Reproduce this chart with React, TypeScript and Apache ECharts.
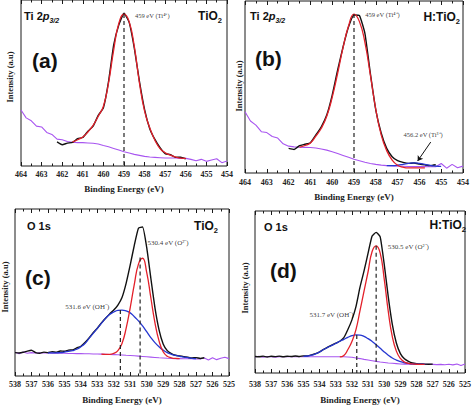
import React, { useEffect, useRef } from 'react';
import * as echarts from 'echarts';

const gap = (n: number) => Array(n).fill(null);

// Binding-energy sampling (eV)
const energyTi = [464, 463.75, 463.5, 463.25, 463, 462.75, 462.5, 462.25, 462, 461.75, 461.5, 461.25, 461, 460.75, 460.5, 460.25, 460, 459.75, 459.5, 459.25, 459, 458.75, 458.5, 458.25, 458, 457.75, 457.5, 457.25, 457, 456.75, 456.5, 456.25, 456, 455.75, 455.5, 455.25, 455, 454.75, 454.5, 454.25, 454];
const energyO = [538, 537.75, 537.5, 537.25, 537, 536.75, 536.5, 536.25, 536, 535.75, 535.5, 535.25, 535, 534.75, 534.5, 534.25, 534, 533.75, 533.5, 533.25, 533, 532.75, 532.5, 532.25, 532, 531.75, 531.5, 531.25, 531, 530.75, 530.5, 530.25, 530, 529.75, 529.5, 529.25, 529, 528.75, 528.5, 528.25, 528, 527.75, 527.5, 527.25, 527, 526.75, 526.5, 526.25, 526, 525.75, 525.5, 525.25, 525];

// (a) Ti 2p3/2 — TiO2
const bgA = [33.7, 29.0, 27.2, 24.0, 23.5, 20.2, 19.0, 16.2, 15.8, 14.7, 14.3, 14.1, 14.1, 13.9, 13.7, 13.3, 12.4, 11.6, 10.6, 9.6, 8.6, 7.8, 7.0, 6.4, 5.8, 5.4, 5.2, 5.0, 4.8, 4.8, 4.8, 4.6, 4.6, 4.0, 3.2, 4.0, 2.8, 3.6, 4.4, 2.0, 3.0];
const rawA = [...gap(7), 14.5, 12.8, 13.8, 14.2, 16.5, 17.2, 21, 24, 30.5, 35, 51, 73, 85, 92, 86.5, 71, 51, 34, 22.5, 16, 11, 7.5, 6.8, 5.2, 5.3, 4.3, ...gap(8)];
const fitA = [...gap(10), 14.5, 15.8, 17.5, 20.5, 24.5, 30, 36, 50, 70, 86, 91.5, 87, 72, 50, 33, 23, 15.5, 10.5, 8, 6.5, 5.5, 4.8, 4.6, ...gap(8)];

// (b) Ti 2p3/2 — H:TiO2
const bgB = [35.6, 30.2, 27.8, 24.0, 23.5, 21.2, 20.3, 17.0, 15.6, 15.2, 15.0, 14.9, 14.8, 14.5, 14.0, 13.3, 12.4, 11.3, 10.2, 9.1, 8.0, 7.1, 6.2, 5.5, 5.0, 4.6, 4.3, 4.1, 4.0, 3.9, 3.8, 3.7, 3.7, 3.7, 3.6, 3.6, 5.5, 2.8, 5.0, 3.0, 4.0];
const rawB = [...gap(8), 14.3, 13.7, 15.9, 16.7, 17.6, 22.1, 26.9, 33.7, 45.3, 59.9, 73.4, 85.0, 91.9, 91.5, 81.2, 57.9, 36.6, 23.1, 14.3, 9.5, 7.2, 6.2, 5.6, 5.8, 5.2, 4.7, 4.3, 4.8, ...gap(5)];
const fitB = [...gap(10), 15.0, 16, 17.5, 21.5, 26, 33, 44, 58, 73, 85.5, 92.4, 88, 76, 57, 37, 22, 13, 7.5, 4.5, 3.4, 3.0, 3.0, 3.0, 3.0, ...gap(7)];
const ti3B = [...gap(26), 4.3, 4.3, 4.5, 5.0, 5.6, 5.9, 5.6, 5.0, 4.4, 4.0, 3.8, ...gap(4)];

// (c) O 1s — TiO2
const bgC = [14.2, 13.4, 14.4, 13.6, 14.0, 13.8, 13.9, 13.8, 13.8, 13.7, 13.7, 13.6, 13.6, 13.5, 13.5, 13.4, 13.4, 13.3, 13.3, 13.2, 13.2, 13.1, 13.0, 12.9, 12.8, 12.7, 12.6, 12.4, 12.3, 12.1, 11.9, 11.7, 11.5, 11.3, 11.1, 10.9, 10.8, 10.6, 10.5, 10.4, 10.4, 10.3, 10.3, 10.3, 10.2, 10.2, 10.8, 9.6, 10.9, 9.8, 10.6, 11.2, 10.4];
const rawC = [14.0, 13.8, 14.2, 14.9, 15.4, 14.0, 13.6, 14.3, 14.0, 14.6, 14.2, 15.0, 14.8, 15.5, 15.6, 16.8, 17.8, 20.0, 22.8, 26.0, 28.6, 31.8, 34.6, 37.2, 39.5, 42.5, 47.0, 55.5, 66.5, 78.4, 88.5, 89.2, 77.0, 58.7, 40.9, 27.6, 19.2, 15.2, 13.4, 12.4, 12.0, 11.6, 11.2, 10.8, 11.0, 10.5, 10.9, ...gap(6)];
const ohC = [...gap(8), 13.8, 13.8, 13.9, 14.0, 14.3, 14.7, 15.2, 16.0, 17.5, 19.5, 22.5, 25.5, 28.5, 31.5, 34.5, 36.8, 38.3, 39.3, 39.5, 39.0, 37.8, 35.5, 33.0, 30.0, 26.5, 23.0, 20.0, 17.5, 15.5, 14.0, 13.0, 12.3, 11.8, 11.3, 11.0, 10.6, 10.4, ...gap(8)];
const oxC = [...gap(21), 13.1, 13.0, 13.0, 13.6, 15.2, 19.5, 28.5, 41, 55, 67, 70.5, 62, 47, 32, 21, 14.5, 11.8, 10.9, 10.5, 10.4, ...gap(12)];

// (d) O 1s — H:TiO2
const bgD = [9.9, 10.3, 9.8, 10.2, 10.0, 9.7, 10.1, 10.0, 10.0, 10.0, 10.0, 10.0, 10.0, 10.0, 10.0, 10.0, 10.0, 10.0, 10.0, 10.0, 10.0, 10.0, 10.0, 9.9, 9.7, 9.3, 8.9, 8.4, 8.0, 7.6, 7.2, 6.8, 6.5, 6.2, 6.0, 5.8, 5.6, 5.5, 5.4, 5.4, 5.3, 5.3, 5.3, 5.3, 5.3, 5.2, 5.3, 5.1, 5.4, 5.0, 5.6, 4.6, 5.5];
const rawD = [10.2, 10.0, 10.4, 9.9, 10.3, 10.1, 10.4, 10.0, 10.3, 10.2, 10.5, 10.2, 10.6, 10.6, 11.2, 12.0, 13.1, 14.6, 15.9, 17.2, 18.4, 19.6, 21.8, 26.8, 32.8, 41.0, 53.0, 63.0, 74.0, 84.5, 86.8, 84.0, 67.0, 47.0, 30.0, 18.5, 12.0, 8.8, 7.2, 6.2, 5.8, 5.6, 5.5, 5.4, 5.5, ...gap(8)];
const ohD = [...gap(12), 10.2, 10.5, 11.0, 11.8, 13.0, 14.5, 15.8, 17.0, 18.2, 19.6, 20.8, 22.0, 23.0, 23.5, 23.4, 22.6, 21.2, 19.5, 17.5, 15.3, 13.0, 11.0, 9.3, 8.0, 7.0, 6.3, 5.9, 5.6, 5.5, 5.4, 5.4, ...gap(10)];
const oxD = [...gap(21), 9.9, 10.8, 14.5, 19.5, 26.8, 38.5, 50.5, 62.5, 75, 78.5, 74, 58, 38, 22.4, 13.5, 9.0, 6.8, 6.0, 5.6, 5.4, 5.3, 5.3, ...gap(10)];

// Peak positions [eV, intensity at the peak]
const peaksA = [[459, 91.5]];
const peaksB = [[459, 92.4]];
const peaksC = [[531.6, 39.5], [530.4, 71]];
const peaksD = [[531.7, 23.5], [530.5, 78.5]];

// Peak annotations [eV, intensity, text]
const notesA: [number, number, string][] = [[458.47, 90.4, '459 eV (Ti⁴⁺)']];
const notesB: [number, number, string][] = [[458.49, 91.9, '459 eV (Ti⁴⁺)'], [456.73, 22.1, '456.2 eV (Ti³⁺)']];
const notesC: [number, number, string][] = [[529.95, 79.6, '530.4 eV (O²⁻)'], [534.95, 41.3, '531.6 eV (OH⁻)']];
const notesD: [number, number, string][] = [[529.78, 78, '530.5 eV (O²⁻)'], [534.63, 35.8, '531.7 eV (OH⁻)']];
const arrowB = [[455.48, 18], [456.08, 7]];

const tiRange = [454, 464];
const oRange = [525, 538];

const INK = '#1a1a1a';
const PURPLE = '#a855f0';
const RED = '#e3202a';
const BLUE = '#2536d0';
const BLACK = '#111111';
const SANS = 'Liberation Sans, Arial, sans-serif';
const SERIF = 'Liberation Serif, Times New Roman, serif';

const panels = [
  { grid: { left: 21, top: 0, width: 206, height: 166 }, range: tiRange, x: energyTi, bg: bgA, raw: rawA, blue: null as any, red: fitA, peaks: peaksA, notes: notesA, noteSize: 6.5, labelMargin: 4, nameGap: 18 },
  { grid: { left: 245, top: 1, width: 218, height: 172 }, range: tiRange, x: energyTi, bg: bgB, raw: rawB, blue: ti3B, red: fitB, peaks: peaksB, notes: notesB, noteSize: 6.5, labelMargin: 5, nameGap: 19 },
  { grid: { left: 15, top: 209, width: 214, height: 167 }, range: oRange, x: energyO, bg: bgC, raw: rawC, blue: ohC, red: oxC, peaks: peaksC, notes: notesC, noteSize: 7, labelMargin: 4, nameGap: 19 },
  { grid: { left: 255, top: 211, width: 212, height: 162 }, range: oRange, x: energyO, bg: bgD, raw: rawD, blue: ohD, red: oxD, peaks: peaksD, notes: notesD, noteSize: 7, labelMargin: 7, nameGap: 22 },
];

const toPairs = (xs: number[], ys: (number | null)[]) =>
  xs.map((x, i) => [x, ys[i]]).filter((p) => p[1] !== null);

function buildOption() {
  const grid = panels.map((p) => ({ ...p.grid, show: true, borderColor: INK, borderWidth: 1, backgroundColor: 'transparent' }));

  const tickCommon = {
    axisLine: { show: false },
    axisTick: { show: true, inside: true, length: 4, lineStyle: { color: INK, width: 1 } },
    minorTick: { show: true, splitNumber: 2, length: 2.5, lineStyle: { color: INK, width: 1 } },
    splitLine: { show: false },
    minorSplitLine: { show: false },
  };

  const bottomAxes = panels.map((p, i) => ({
    type: 'value', gridIndex: i, position: 'bottom', min: p.range[0], max: p.range[1], interval: 1, inverse: true,
    ...tickCommon,
    axisLabel: {
      show: true, margin: p.labelMargin, fontSize: 8, fontWeight: 'bold', fontFamily: SERIF, color: '#222',
      showMinLabel: true, showMaxLabel: true, formatter: (v: number) => String(v),
    },
    name: 'Binding Energy (eV)', nameLocation: 'middle', nameGap: p.nameGap,
    nameTextStyle: { fontSize: 9, fontWeight: 'bold', fontFamily: SERIF, color: '#222' },
  }));
  const topAxes = panels.map((p, i) => ({
    type: 'value', gridIndex: i, position: 'top', min: p.range[0], max: p.range[1], interval: 1, inverse: true,
    ...tickCommon,
    axisLabel: { show: false },
  }));

  const yAxis = panels.map((_p, i) => ({ type: 'value', gridIndex: i, min: 0, max: 100, show: false }));

  const series: any[] = [];
  panels.forEach((p, i) => {
    const base = { type: 'line', xAxisIndex: i, yAxisIndex: i, symbol: 'none', silent: true };
    series.push({ ...base, data: toPairs(p.x, p.bg), lineStyle: { color: PURPLE, width: 1.1 }, z: 2 });
    series.push({ ...base, data: toPairs(p.x, p.raw), smooth: 0.15, lineStyle: { color: BLACK, width: 1.4 }, z: 3 });
    if (p.blue) {
      const s: any = { ...base, data: toPairs(p.x, p.blue), smooth: 0.5, lineStyle: { color: BLUE, width: 1.3 }, z: 4 };
      if (i === 1) {
        s.markLine = {
          silent: true, symbol: ['none', 'arrow'], symbolSize: 5, animation: false,
          lineStyle: { color: BLACK, width: 1, type: 'solid' }, label: { show: false },
          data: [[{ coord: arrowB[0] }, { coord: arrowB[1] }]],
        };
      }
      series.push(s);
    }
    series.push({ ...base, data: toPairs(p.x, p.red), smooth: 0.5, lineStyle: { color: RED, width: 1.3 }, z: 5 });
    p.peaks.forEach((pk) => {
      series.push({
        ...base, data: [[pk[0], pk[1]], [pk[0], 0]],
        lineStyle: { color: '#222', width: 1.2, type: [4, 3] }, z: 6,
      });
    });
    series.push({
      type: 'scatter', xAxisIndex: i, yAxisIndex: i, silent: true, symbolSize: 0.1,
      itemStyle: { color: 'transparent' }, z: 7,
      data: p.notes.map((n) => ({ value: [n[0], n[1]], label: { formatter: n[2] } })),
      label: { show: true, position: 'right', distance: 0, fontSize: p.noteSize, fontFamily: SERIF, color: '#000' },
    });
  });

  const richLabel = {
    m: { fontSize: 11, fontWeight: 'bold', fontFamily: SANS, fill: '#111', lineHeight: 16 },
    i: { fontSize: 11, fontWeight: 'bold', fontStyle: 'italic', fontFamily: SANS, fill: '#111', lineHeight: 16 },
    s: { fontSize: 7, fontWeight: 'bold', fontStyle: 'italic', fontFamily: SANS, fill: '#111', lineHeight: 7, verticalAlign: 'bottom' },
    n: { fontSize: 7.5, fontWeight: 'bold', fontFamily: SANS, fill: '#111', lineHeight: 7, verticalAlign: 'bottom' },
    t: { fontSize: 12, fontWeight: 'bold', fontFamily: SANS, fill: '#111', lineHeight: 16 },
  };
  const rich = (x: number, y: number, text: string, align: string) => ({
    type: 'text', x, y, silent: true,
    style: { text, rich: richLabel, align, verticalAlign: 'middle' },
  });
  const plain = (x: number, y: number, text: string, size: number) => ({
    type: 'text', x, y, silent: true,
    style: { text, fontSize: size, fontWeight: 'bold', fontFamily: SANS, fill: '#111', align: 'left', verticalAlign: 'middle' },
  });
  const yName = (x: number, y: number) => ({
    type: 'text', x, y, rotation: Math.PI / 2, silent: true,
    style: { text: 'Intensity (a.u)', fontSize: 8.5, fontWeight: 'bold', fontFamily: SERIF, fill: '#222', align: 'center', verticalAlign: 'middle' },
  });

  const elements = [
    rich(24, 16, '{m|Ti 2}{i|p}{s|3/2}', 'left'),
    rich(222, 16, '{t|TiO}{n|2}', 'right'),
    plain(32, 60, '(a)', 21),
    yName(10, 77),
    rich(250, 16, '{m|Ti 2}{i|p}{s|3/2}', 'left'),
    rich(460, 17, '{t|H:TiO}{n|2}', 'right'),
    plain(255, 58, '(b)', 21),
    yName(239, 86),
    rich(27, 226, '{m|O 1s}', 'left'),
    rich(218, 226, '{t|TiO}{n|2}', 'right'),
    plain(25, 277, '(c)', 21),
    yName(5, 287),
    rich(264, 227, '{m|O 1s}', 'left'),
    rich(466, 225, '{t|H:TiO}{n|2}', 'right'),
    plain(270, 270, '(d)', 21),
    yName(245, 288),
  ];

  return {
    animation: false,
    backgroundColor: '#ffffff',
    grid,
    xAxis: [...bottomAxes, ...topAxes],
    yAxis,
    series,
    graphic: { elements },
  };
}

export default function App() {
  const ref = useRef<HTMLDivElement>(null);
  useEffect(() => {
    if (!ref.current) return;
    const chart = echarts.init(ref.current, null, { renderer: 'svg' });
    chart.setOption(buildOption() as any);
    return () => chart.dispose();
  }, []);
  return (
    <div
      ref={ref}
      style={{ position: 'fixed', left: 0, top: 0, width: 474, height: 407, background: '#fff' }}
    />
  );
}
